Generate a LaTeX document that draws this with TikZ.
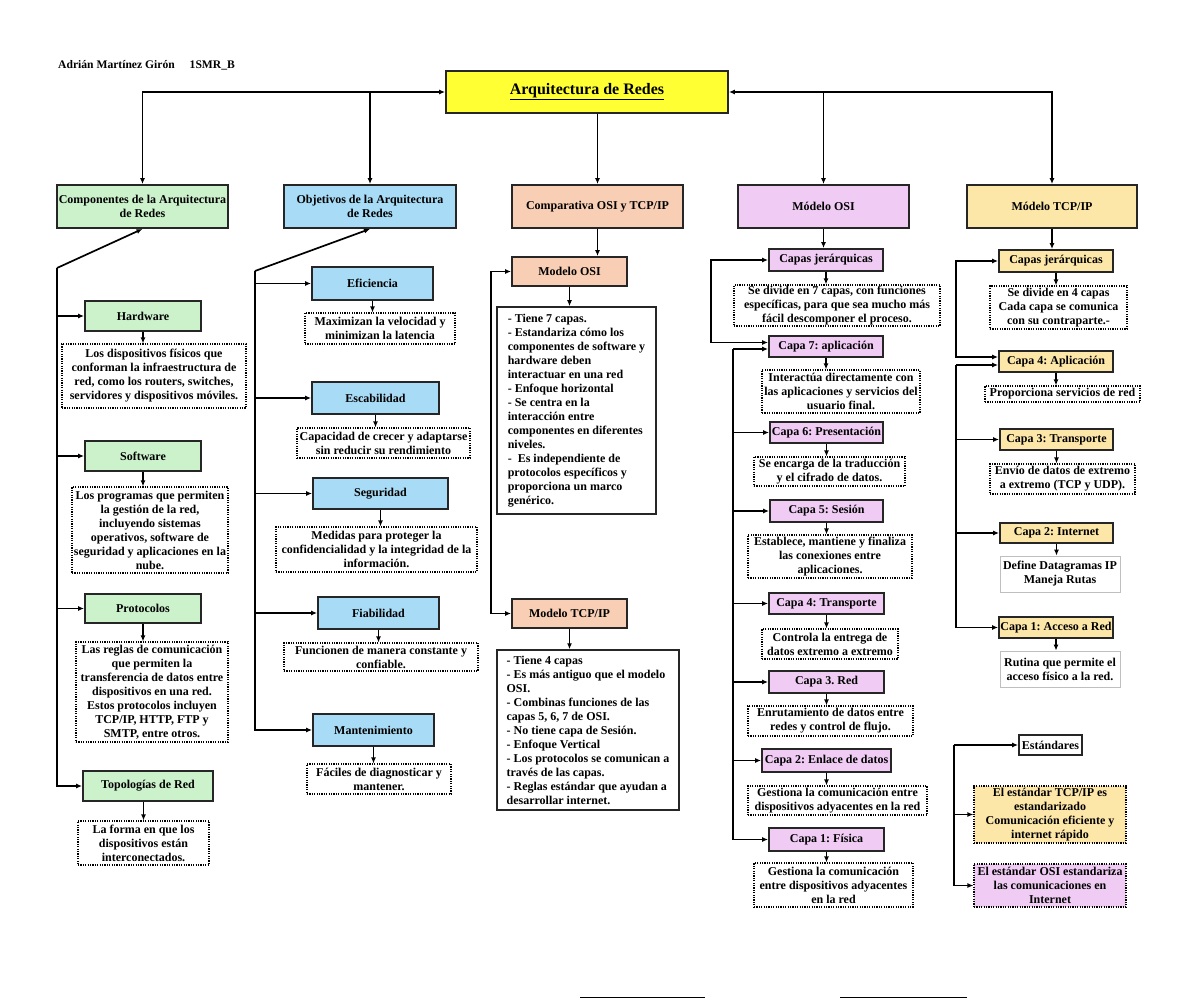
\documentclass[tikz,border=0pt]{standalone}
\usepackage{fontspec}
\setmainfont{Liberation Serif}
\usepackage{xcolor}
\usepackage{tikz}
\usetikzlibrary{arrows.meta,calc}
\frenchspacing

\definecolor{titley}{RGB}{255,255,51}
\definecolor{compg}{RGB}{204,242,204}
\definecolor{objb}{RGB}{168,219,245}
\definecolor{cmps}{RGB}{248,206,180}
\definecolor{osip}{RGB}{240,204,245}
\definecolor{tcpy}{RGB}{252,230,168}

\begin{document}
\begin{tikzpicture}[
  x=1pt, y=-1pt,
  font=\fontsize{12}{14}\selectfont\bfseries,
  sz/.style 2 args={minimum width=#1pt, minimum height=#2pt},
  box/.style={draw=black!85, line width=1.9pt, align=center, inner sep=1pt},
  desc/.style={draw, line width=1.1pt, dash pattern=on 1.2pt off 1.2pt,
               align=center, inner sep=0.5pt},
  note/.style={draw=black!85, line width=1.5pt, align=left, inner sep=1pt},
  gbox/.style={draw=black!25, line width=0.8pt, align=center, inner sep=0.5pt},
  fl/.style={-{Latex[length=6pt,width=5pt]}, line width=1.7pt},
  fll/.style={{Latex[length=6pt,width=5pt]}-{Latex[length=6pt,width=5pt]}, line width=1.7pt},
]
\path[use as bounding box, fill=white] (0,0) rectangle (1200,1000);

% ---------- header ----------
\node[anchor=west, inner sep=0pt, font=\fontsize{11.6}{14}\selectfont\bfseries] (autor) at (58,65)
  {Adrián Martínez Girón\hspace{12pt} 1SMR\_B};
\node[box, fill=titley, sz={282}{42}, font=\fontsize{16}{19}\selectfont\bfseries] (title) at (587,92)
  {\underline{Arquitectura de Redes}};

\node[box, fill=compg, sz={171}{43}] (comp) at (142.5,206.5) {Componentes de la Arquitectura\\de Redes};
\node[box, fill=objb, sz={172}{43}] (obj) at (370,206.5) {Objetivos de la Arquitectura\\de Redes};
\node[box, fill=cmps, sz={171}{43}] (cmp) at (597.5,206.5) {Comparativa OSI y TCP/IP};
\node[box, fill=osip, sz={171}{43}] (mosi) at (823.5,206.5) {Módelo OSI};
\node[box, fill=tcpy, sz={170}{43}] (mtcp) at (1052,206.5) {Módelo TCP/IP};

\draw[fll] (title.west) -| (comp.north);
\draw[fl] (obj.north |- title.west) -- (obj.north);
\draw[fl] (title.south -| cmp.north) -- (cmp.north);
\draw[fll] (title.east) -| (mtcp.north);
\draw[fl] (mosi.north |- title.east) -- (mosi.north);

% ---------- componentes ----------
\node[box, fill=compg, sz={116}{30}] (hw) at (143,316) {Hardware};
\node[desc, sz={184}{64}] (hwd) at (154,376) {Los dispositivos físicos que\\conforman la infraestructura de\\red, como los routers, switches,\\servidores y dispositivos móviles.};
\node[box, fill=compg, sz={116}{30}] (sw) at (143,456) {Software};
\node[desc, sz={156}{86}] (swd) at (150,530) {Los programas que permiten\\la gestión de la red,\\incluyendo sistemas\\operativos, software de\\seguridad y aplicaciones en la\\nube.};
\node[box, fill=compg, sz={116}{29}] (pr) at (143,608.5) {Protocolos};
\node[desc, sz={152}{100}] (prd) at (152,692) {Las reglas de comunicación\\que permiten la\\transferencia de datos entre\\dispositivos en una red.\\Estos protocolos incluyen\\TCP/IP, HTTP, FTP y\\SMTP, entre otros.};
\node[box, fill=compg, sz={130}{30}] (tp) at (148,786) {Topologías de Red};
\node[desc, sz={131}{44}] (tpd) at (143.5,843) {La forma en que los\\dispositivos están\\interconectados.};

\coordinate (s1) at (57,268);
\draw[fl] (s1) -- (comp.south);
\draw[fl] (s1) |- (tp.west);
\foreach \n in {hw,sw,pr} \draw[fl] (s1 |- \n.west) -- (\n.west);
\foreach \a/\b in {hw/hwd,sw/swd,pr/prd} \draw[fl] (\a.south) -- (\a.south |- \b.north);
\draw[fl] (tp.south -| tpd.north) -- (tpd.north);

% ---------- objetivos ----------
\node[box, fill=objb, sz={121}{33}] (ef) at (372.5,283.5) {Eficiencia};
\node[desc, sz={150}{31}] (efd) at (380,328.5) {Maximizan la velocidad y\\minimizan la latencia};
\node[box, fill=objb, sz={127}{32}] (es) at (375.5,398) {Escabilidad};
\node[desc, sz={173}{30}] (esd) at (383.5,443) {Capacidad de crecer y adaptarse\\sin reducir su rendimiento};
\node[box, fill=objb, sz={135}{31}] (se) at (380.5,493.5) {Seguridad};
\node[desc, sz={201}{45}] (sed) at (376.5,549.5) {Medidas para proteger la\\confidencialidad y la integridad de la\\información.};
\node[box, fill=objb, sz={121}{32}] (fi) at (378.5,613) {Fiabilidad};
\node[desc, sz={194}{28}] (fid) at (381,657) {Funcionen de manera constante y\\confiable.};
\node[box, fill=objb, sz={121}{32}] (ma) at (373.5,730) {Mantenimiento};
\node[desc, sz={144}{30}] (mad) at (379,779) {Fáciles de diagnosticar y\\mantener.};

\coordinate (s2) at (255,271);
\draw[fl] (s2) -- (obj.south);
\draw[fl] (s2) |- (ma.west);
\foreach \n in {ef,es,se,fi} \draw[fl] (s2 |- \n.west) -- (\n.west);
\foreach \a/\b in {ef/efd,es/esd,se/sed,fi/fid,ma/mad} \draw[fl] (\a.south) -- (\a.south |- \b.north);

% ---------- comparativa ----------
\node[box, fill=cmps, sz={115}{29}] (mo) at (569.5,271.5) {Modelo OSI};
\node[note, sz={159}{207}] (mod) at (576.5,410.5) {- Tiene 7 capas.\\- Estandariza cómo los\\componentes de software y\\hardware deben\\interactuar en una red\\- Enfoque horizontal\\- Se centra en la\\interacción entre\\componentes en diferentes\\niveles.\\-\ \ Es independiente de\\protocolos específicos y\\proporciona un marco\\genérico.};
\node[box, fill=cmps, sz={115}{29}] (mt) at (569.5,613.5) {Modelo TCP/IP};
\node[note, sz={182}{160}] (mtd) at (588,730) {- Tiene 4 capas\\- Es más antiguo que el modelo\\OSI.\\- Combinas funciones de las\\capas 5, 6, 7 de OSI.\\- No tiene capa de Sesión.\\- Enfoque Vertical\\- Los protocolos se comunican a\\través de las capas.\\- Reglas estándar que ayudan a\\desarrollar internet.};

\draw[fl] (cmp.south) -- (cmp.south |- mo.north);
\draw[fll] (mo.west) -- ++(-20,0) |- (mt.west);
\foreach \a/\b in {mo/mod,mt/mtd} \draw[fl] (\a.south) -- (\a.south |- \b.north);

% ---------- modelo OSI ----------
\node[box, fill=osip, sz={114}{22}] (cj) at (826,260) {Capas jerárquicas};
\node[desc, sz={206}{41}] (cjd) at (837,305.5) {Se divide en 7 capas, con funciones\\específicas, para que sea mucho más\\fácil descomponer el proceso.};
\node[box, fill=osip, sz={114}{21}] (c7) at (826,346.5) {Capa 7: aplicación};
\node[desc, sz={158}{43}] (c7d) at (841,391.5) {Interactúa directamente con\\las aplicaciones y servicios del\\usuario final.};
\node[box, fill=osip, sz={113}{21}] (c6) at (826.5,432.5) {Capa 6: Presentación};
\node[desc, sz={151}{29}] (c6d) at (829.5,471.5) {Se encarga de la traducción\\y el cifrado de datos.};
\node[box, fill=osip, sz={113}{22}] (c5) at (826.5,511) {Capa 5: Sesión};
\node[desc, sz={164}{43}] (c5d) at (830,556.5) {Establece, mantiene y finaliza\\las conexiones entre\\aplicaciones.};
\node[box, fill=osip, sz={115}{21}] (c4) at (826.5,603.5) {Capa 4: Transporte};
\node[desc, sz={136}{30}] (c4d) at (830,644) {Controla la entrega de\\datos extremo a extremo};
\node[box, fill=osip, sz={115}{22}] (c3) at (826.5,682) {Capa 3. Red};
\node[desc, sz={165}{30}] (c3d) at (830.5,721) {Enrutamiento de datos entre\\redes y control de flujo.};
\node[box, fill=osip, sz={129}{23}] (c2) at (826.5,760.5) {Capa 2: Enlace de datos};
\node[desc, sz={179}{29}] (c2d) at (837.5,800.5) {Gestiona la comunicación entre\\dispositivos adyacentes en la red};
\node[box, fill=osip, sz={115}{23}] (c1) at (826.5,839.5) {Capa 1: Física};
\node[desc, sz={159}{44}] (c1d) at (833.5,885) {Gestiona la comunicación\\entre dispositivos adyacentes\\en la red};

\draw[fl] (mosi.south) -- (mosi.south |- cj.north);
\draw[fll] (cj.west) -- ++(-57,0) |- ([yshift=4pt]c7.west);
\coordinate (s4) at ([xshift=-35pt,yshift=-2.5pt]c7.west);
\draw[fl] (s4) -- ([yshift=-2.5pt]c7.west);
\draw[fl] (s4) |- (c1.west);
\foreach \n in {c6,c5,c4,c3,c2} \draw[fl] (s4 |- \n.west) -- (\n.west);
\foreach \a/\b in {cj/cjd,c7/c7d,c6/c6d,c5/c5d,c4/c4d,c3/c3d,c2/c2d,c1/c1d}
  \draw[fl] (\a.south) -- (\a.south |- \b.north);

% ---------- modelo TCP/IP ----------
\node[box, fill=tcpy, sz={114}{22}] (tj) at (1056,261) {Capas jerárquicas};
\node[desc, sz={137}{43}] (tjd) at (1058.5,307.5) {Se divide en 4 capas\\Cada capa se comunica\\con su contraparte.-};
\node[box, fill=tcpy, sz={114}{21}] (t4) at (1056,361.5) {Capa 4: Aplicación};
\node[desc, sz={155}{16}] (t4d) at (1062.5,394) {Proporciona servicios de red};
\node[box, fill=tcpy, sz={113}{21}] (t3) at (1056.5,439.5) {Capa 3: Transporte};
\node[desc, sz={145}{30}] (t3d) at (1062.5,479) {Envío de datos de extremo\\a extremo (TCP y UDP).};
\node[box, fill=tcpy, sz={113}{20}] (t2) at (1056.5,533) {Capa 2: Internet};
\node[gbox, sz={120}{36}] (t2d) at (1060,574) {Define Datagramas IP\\Maneja Rutas};
\node[box, fill=tcpy, sz={114}{21}] (t1) at (1056,627.5) {Capa 1: Acceso a Red};
\node[gbox, sz={120}{36}] (t1d) at (1060,669) {Rutina que permite el\\acceso físico a la red.};

\draw[fl] (mtcp.south) -- (mtcp.south |- tj.north);
\draw[fll] (tj.west) -- ++(-42,0) |- ([yshift=4.5pt]t4.west);
\coordinate (s5) at ([xshift=-42pt,yshift=-3.5pt]t4.west);
\draw[fl] (s5) -- ([yshift=-3.5pt]t4.west);
\draw[fl] (s5) |- (t1.west);
\foreach \n in {t3,t2} \draw[fl] (s5 |- \n.west) -- (\n.west);
\foreach \a/\b in {tj/tjd,t4/t4d,t3/t3d,t2/t2d,t1/t1d} \draw[fl] (\a.south) -- (\a.south |- \b.north);

% ---------- estandares ----------
\node[box, fill=white, sz={63}{20}] (st) at (1050.5,745) {Estándares};
\node[desc, fill=tcpy, sz={152}{57}] (std1) at (1050,814.5) {El estándar TCP/IP es\\estandarizado\\Comunicación eficiente y\\internet rápido};
\node[desc, fill=osip, sz={152}{43}] (std2) at (1050,885.5) {El estándar OSI estandariza\\las comunicaciones en\\Internet};

\coordinate (s6) at ([xshift=-64pt]st.west);
\draw[fl] (s6) -- (st.west);
\draw[fl] (s6) |- (std2.west);
\draw[fl] (s6 |- std1.west) -- (std1.west);

% signature lines
\draw[line width=0.9pt] (580,997) -- (705,997);
\draw[line width=0.9pt] (840,997) -- (967,997);

\end{tikzpicture}
\end{document}
